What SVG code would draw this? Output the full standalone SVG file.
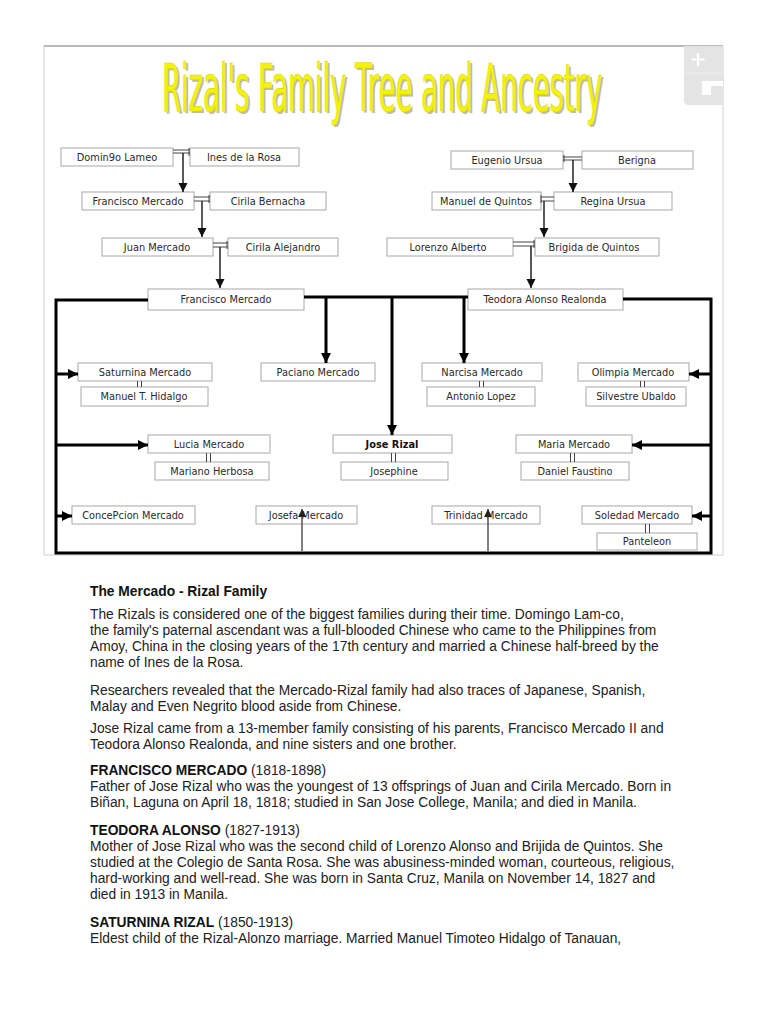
<svg xmlns="http://www.w3.org/2000/svg" width="768" height="1024" viewBox="0 0 768 1024">
<defs>
<marker id="ah" viewBox="0 0 10 10" refX="10" refY="5" markerWidth="11" markerHeight="10" markerUnits="userSpaceOnUse" orient="auto"><path d="M0,0 L10,5 L0,10 z" fill="#000"/></marker>
<marker id="ahs" viewBox="0 0 10 10" refX="10" refY="5" markerWidth="9" markerHeight="10" markerUnits="userSpaceOnUse" orient="auto"><path d="M0,0 L10,5 L0,10 z" fill="#111"/></marker>
<marker id="ahg" viewBox="0 0 10 10" refX="10" refY="5" markerWidth="9" markerHeight="8" markerUnits="userSpaceOnUse" orient="auto"><path d="M0,0 L10,5 L0,10 z" fill="#222"/></marker>
</defs>
<style>
.bx{fill:#fff;stroke:#a8a8a8;stroke-width:1}
.lb{font-family:"DejaVu Sans",Verdana,sans-serif;font-size:9.8px;fill:#2a2a2a;text-anchor:middle}
.b{font-weight:bold;fill:#111}
.thk{fill:none;stroke:#000;stroke-width:3}
.thin{fill:none;stroke:#222;stroke-width:1.5}
.gr{fill:none;stroke:#555;stroke-width:1.5}
.mar{fill:none;stroke:#444;stroke-width:1}
.tx{font-family:"Liberation Sans",Arial,sans-serif;font-size:13.8px;fill:#222}
.hd{font-weight:bold;fill:#111}
.ttl{font-family:"DejaVu Sans",sans-serif;font-size:44px;text-anchor:middle}
</style>
<rect width="768" height="1024" fill="#fff"/>
<g id="frame">
<path d="M44,555 V46 H723 V555 H44" fill="none" stroke="#cfcfcf" stroke-width="1"/>
<line x1="44" y1="46" x2="723" y2="46" stroke="#8a8a8a" stroke-width="1"/>
<path d="M684,46 H723 V105 H689 Q684,105 684,100 Z" fill="#e4e4e4"/>
<line x1="684" y1="73" x2="723" y2="73" stroke="#efefef" stroke-width="1"/>
<path d="M698,53 V66 M691.5,59.5 H704.5" stroke="#fff" stroke-width="2.2"/>
<rect x="702" y="81" width="21" height="14" fill="#fff"/>
<rect x="711" y="86" width="12" height="9" fill="#e4e4e4"/>
</g>
<g id="title">
<text class="ttl" transform="translate(384,113) scale(0.75,1.5)" x="0" y="0" textLength="587" lengthAdjust="spacingAndGlyphs" fill="#a8a070" opacity="0.7">Rizal's Family Tree and Ancestry</text>
<text class="ttl" transform="translate(382,111) scale(0.75,1.5)" x="0" y="0" textLength="587" lengthAdjust="spacingAndGlyphs" fill="#f2f20a" stroke="#e0d800" stroke-width="0.4">Rizal's Family Tree and Ancestry</text>
</g>
<g id="n-domingo"><rect class="bx" x="61" y="148" width="112" height="18"/><text class="lb" x="117" y="161">Domin9o Lameo</text></g>
<g id="n-ines"><rect class="bx" x="190" y="148" width="109" height="18"/><text class="lb" x="244" y="161">Ines de la Rosa</text></g>
<g id="n-francisco1"><rect class="bx" x="82" y="192" width="112" height="18"/><text class="lb" x="138" y="205">Francisco Mercado</text></g>
<g id="n-cirila-b"><rect class="bx" x="210" y="192" width="116" height="18"/><text class="lb" x="268" y="205">Cirila Bernacha</text></g>
<g id="n-juan"><rect class="bx" x="102" y="238" width="111" height="18"/><text class="lb" x="157" y="251">Juan Mercado</text></g>
<g id="n-cirila-a"><rect class="bx" x="228" y="238" width="110" height="18"/><text class="lb" x="283" y="251">Cirila Alejandro</text></g>
<g id="n-francisco2"><rect class="bx" x="148" y="289" width="156" height="21"/><text class="lb" x="226" y="303">Francisco Mercado</text></g>
<g id="n-eugenio"><rect class="bx" x="451" y="151" width="112" height="18"/><text class="lb" x="507" y="164">Eugenio Ursua</text></g>
<g id="n-berigna"><rect class="bx" x="582" y="151" width="111" height="18"/><text class="lb" x="637" y="164">Berigna</text></g>
<g id="n-manuel-q"><rect class="bx" x="432" y="192" width="109" height="18"/><text class="lb" x="486" y="205">Manuel de Quintos</text></g>
<g id="n-regina"><rect class="bx" x="554" y="192" width="118" height="18"/><text class="lb" x="613" y="205">Regina Ursua</text></g>
<g id="n-lorenzo"><rect class="bx" x="387" y="238" width="126" height="18"/><text class="lb" x="448" y="251">Lorenzo Alberto</text></g>
<g id="n-brigida"><rect class="bx" x="535" y="238" width="124" height="18"/><text class="lb" x="594" y="251">Brigida de Quintos</text></g>
<g id="n-teodora"><rect class="bx" x="468" y="289" width="155" height="21"/><text class="lb" x="545" y="303">Teodora Alonso Realonda</text></g>
<g id="n-saturnina"><rect class="bx" x="78" y="363" width="134" height="18"/><text class="lb" x="145" y="376">Saturnina Mercado</text></g>
<g id="n-manuel-h"><rect class="bx" x="81" y="387" width="127" height="19"/><text class="lb" x="144" y="400">Manuel T. Hidalgo</text></g>
<g id="n-paciano"><rect class="bx" x="261" y="363" width="114" height="18"/><text class="lb" x="318" y="376">Paciano Mercado</text></g>
<g id="n-narcisa"><rect class="bx" x="422" y="363" width="120" height="18"/><text class="lb" x="482" y="376">Narcisa Mercado</text></g>
<g id="n-antonio"><rect class="bx" x="427" y="387" width="108" height="19"/><text class="lb" x="481" y="400">Antonio Lopez</text></g>
<g id="n-olimpia"><rect class="bx" x="578" y="363" width="111" height="18"/><text class="lb" x="633" y="376">Olimpia Mercado</text></g>
<g id="n-silvestre"><rect class="bx" x="586" y="387" width="100" height="19"/><text class="lb" x="636" y="400">Silvestre Ubaldo</text></g>
<g id="n-lucia"><rect class="bx" x="148" y="435" width="122" height="18"/><text class="lb" x="209" y="448">Lucia Mercado</text></g>
<g id="n-mariano"><rect class="bx" x="155" y="462" width="114" height="18"/><text class="lb" x="212" y="475">Mariano Herbosa</text></g>
<g id="n-jose"><rect class="bx" x="333" y="435" width="119" height="18"/><text class="lb b" x="392" y="448">Jose Rizal</text></g>
<g id="n-josephine"><rect class="bx" x="341" y="462" width="107" height="18"/><text class="lb" x="394" y="475">Josephine</text></g>
<g id="n-maria"><rect class="bx" x="516" y="435" width="116" height="18"/><text class="lb" x="574" y="448">Maria Mercado</text></g>
<g id="n-daniel"><rect class="bx" x="521" y="462" width="108" height="18"/><text class="lb" x="575" y="475">Daniel Faustino</text></g>
<g id="n-concepcion"><rect class="bx" x="72" y="506" width="123" height="18"/><text class="lb" x="133" y="519">ConcePcion Mercado</text></g>
<g id="n-josefa"><rect class="bx" x="256" y="506" width="101" height="18"/><text class="lb" x="306" y="519">Josefa Mercado</text></g>
<g id="n-trinidad"><rect class="bx" x="432" y="506" width="108" height="18"/><text class="lb" x="486" y="519">Trinidad Mercado</text></g>
<g id="n-soledad"><rect class="bx" x="582" y="506" width="110" height="18"/><text class="lb" x="637" y="519">Soledad Mercado</text></g>
<g id="n-panteleon"><rect class="bx" x="597" y="533" width="100" height="17"/><text class="lb" x="647" y="545">Panteleon</text></g>
<g id="connectors">
<path class="mar" d="M173,150 H190 M173,153 H190 M189,148 V156"/>
<path class="mar" d="M194,197 H210 M194,201 H210 M209,195 V203"/>
<path class="mar" d="M213,243 H228 M213,247 H228 M227,241 V249"/>
<path class="mar" d="M563,157 H582 M563,160 H582 M564,155 V162"/>
<path class="mar" d="M541,197 H554 M541,201 H554 M541,195 V203"/>
<path class="mar" d="M513,242 H535 M513,246 H535 M534,240 V248"/>
<line class="thin" x1="183" y1="153" x2="183" y2="192" marker-end="url(#ahs)"/>
<line class="thin" x1="202" y1="201" x2="202" y2="237" marker-end="url(#ahs)"/>
<line class="thin" x1="220" y1="247" x2="220" y2="288" marker-end="url(#ahs)"/>
<line class="thin" x1="573" y1="160" x2="573" y2="192" marker-end="url(#ahs)"/>
<line class="thin" x1="544" y1="201" x2="544" y2="237" marker-end="url(#ahs)"/>
<line class="thin" x1="531" y1="246" x2="531" y2="288" marker-end="url(#ahs)"/>
<path class="thk" d="M148,300 H56 V553 H711 V299 H623"/>
<path class="thk" d="M304,297 H468"/>
<path class="thk" d="M56,374 H78" marker-end="url(#ah)"/>
<path class="thk" d="M326,297 V363" marker-end="url(#ah)"/>
<path class="thk" d="M392,297 V435" marker-end="url(#ah)"/>
<path class="thk" d="M464,297 V363" marker-end="url(#ah)"/>
<path class="thk" d="M711,374 H689" marker-end="url(#ah)"/>
<path class="thk" d="M56,445 H148" marker-end="url(#ah)"/>
<path class="thk" d="M711,445 H632" marker-end="url(#ah)"/>
<path class="thk" d="M56,516 H72" marker-end="url(#ah)"/>
<path class="thk" d="M711,516 H692" marker-end="url(#ah)"/>
<path class="gr" d="M302,551 V509" marker-end="url(#ahg)"/>
<path class="gr" d="M488,551 V509" marker-end="url(#ahg)"/>
<path class="mar" d="M137.5,381 V387 M141.5,381 V387"/>
<path class="mar" d="M479.5,381 V387 M483.5,381 V387"/>
<path class="mar" d="M640.5,381 V387 M644.5,381 V387"/>
<path class="mar" d="M206.5,453 V462 M210.5,453 V462"/>
<path class="mar" d="M391.5,453 V462 M395.5,453 V462"/>
<path class="mar" d="M570.5,453 V462 M574.5,453 V462"/>
<path class="mar" d="M645.5,524 V533 M649.5,524 V533"/>
</g>
<g id="article">
<text class="tx hd" x="90" y="596">The Mercado - Rizal Family</text>
<text class="tx" x="90" y="619">The Rizals is considered one of the biggest families during their time. Domingo Lam-co,</text>
<text class="tx" x="90" y="635">the family's paternal ascendant was a full-blooded Chinese who came to the Philippines from</text>
<text class="tx" x="90" y="651">Amoy, China in the closing years of the 17th century and married a Chinese half-breed by the</text>
<text class="tx" x="90" y="667">name of Ines de la Rosa.</text>
<text class="tx" x="90" y="695">Researchers revealed that the Mercado-Rizal family had also traces of Japanese, Spanish,</text>
<text class="tx" x="90" y="711">Malay and Even Negrito blood aside from Chinese.</text>
<text class="tx" x="90" y="733">Jose Rizal came from a 13-member family consisting of his parents, Francisco Mercado II and</text>
<text class="tx" x="90" y="749">Teodora Alonso Realonda, and nine sisters and one brother.</text>
<text class="tx" x="90" y="775"><tspan class="hd">FRANCISCO MERCADO</tspan> (1818-1898)</text>
<text class="tx" x="90" y="791">Father of Jose Rizal who was the youngest of 13 offsprings of Juan and Cirila Mercado. Born in</text>
<text class="tx" x="90" y="807">Biñan, Laguna on April 18, 1818; studied in San Jose College, Manila; and died in Manila.</text>
<text class="tx" x="90" y="835"><tspan class="hd">TEODORA ALONSO</tspan> (1827-1913)</text>
<text class="tx" x="90" y="851">Mother of Jose Rizal who was the second child of Lorenzo Alonso and Brijida de Quintos. She</text>
<text class="tx" x="90" y="867">studied at the Colegio de Santa Rosa. She was abusiness-minded woman, courteous, religious,</text>
<text class="tx" x="90" y="883">hard-working and well-read. She was born in Santa Cruz, Manila on November 14, 1827 and</text>
<text class="tx" x="90" y="899">died in 1913 in Manila.</text>
<text class="tx" x="90" y="927"><tspan class="hd">SATURNINA RIZAL</tspan> (1850-1913)</text>
<text class="tx" x="90" y="943">Eldest child of the Rizal-Alonzo marriage. Married Manuel Timoteo Hidalgo of Tanauan,</text>
</g>
</svg>
